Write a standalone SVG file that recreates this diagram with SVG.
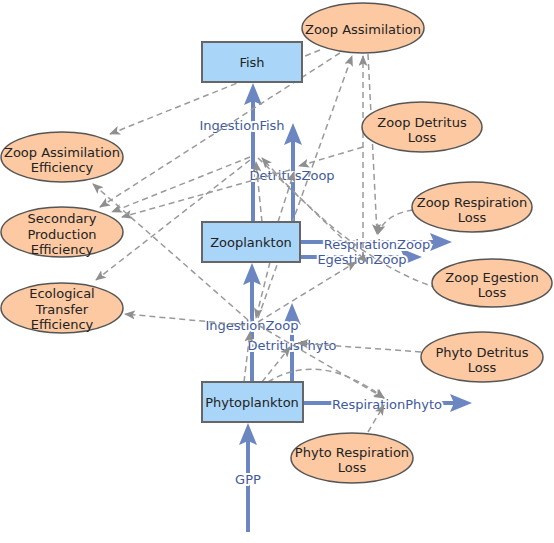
<svg xmlns="http://www.w3.org/2000/svg" width="554" height="543" viewBox="0 0 554 543">
<defs>
<style>
.flow{stroke:#6b86c1;stroke-width:4;fill:none;marker-end:url(#fa)}
.con{stroke:#9a9a9a;stroke-width:1.5;stroke-dasharray:6 4;fill:none;marker-end:url(#ca)}
.stock{fill:#a9d6f8;stroke:#666;stroke-width:2}
.conv{fill:#fcc9a2;stroke:#555;stroke-width:1.5}
text{font-family:"DejaVu Sans","Liberation Sans",sans-serif;font-size:13px;text-anchor:middle}
.nt{fill:#222}
.fl{fill:#3f5a9c;stroke:#fff;stroke-width:4;stroke-linejoin:round;paint-order:stroke}
</style>
<marker id="fa" viewBox="0 0 22 18" refX="12" refY="9" markerWidth="22" markerHeight="18" markerUnits="userSpaceOnUse" orient="auto">
<path d="M0,0 L22,9 L0,18 L4,9 z" fill="#6b86c1"/>
</marker>
<marker id="ca" viewBox="0 0 11 9" refX="10" refY="4.5" markerWidth="11" markerHeight="9" markerUnits="userSpaceOnUse" orient="auto">
<path d="M0,0 L11,4.5 L0,9 L2.5,4.5 z" fill="#8f8f8f"/>
</marker>
</defs>
<rect width="554" height="543" fill="#fff"/>
<g id="flows">
<line class="flow" x1="248" y1="532" x2="248" y2="433"/>
<line class="flow" x1="252" y1="382" x2="252" y2="273"/>
<line class="flow" x1="292" y1="382" x2="292" y2="313"/>
<line class="flow" x1="253" y1="222" x2="253" y2="93"/>
<line class="flow" x1="293" y1="222" x2="293" y2="133"/>
<line class="flow" x1="300" y1="242" x2="442" y2="242"/>
<line class="flow" x1="300" y1="257" x2="412" y2="257"/>
<line class="flow" x1="303" y1="403" x2="462" y2="403"/>
</g>
<g id="flow-labels">
<text class="fl" x="248" y="484">GPP</text>
<text class="fl" x="252" y="330">IngestionZoop</text>
<text class="fl" x="292" y="350">DetritusPhyto</text>
<text class="fl" x="242" y="130">IngestionFish</text>
<text class="fl" x="292" y="180">DetritusZoop</text>
<text class="fl" x="377" y="249">RespirationZoop</text>
<text class="fl" x="362" y="264">EgestionZoop</text>
<text class="fl" x="387" y="409">RespirationPhyto</text>
</g>
<g id="connectors">
<path class="con" d="M320,50 L110,134"/>
<path class="con" d="M340,53 L100,207"/>
<path class="con" d="M250,157 L112,212"/>
<path class="con" d="M290,170 L122,217"/>
<path class="con" d="M250,160 L96,280"/>
<path class="con" d="M245,325 L125,314"/>
<path class="con" d="M248,320 L93,184"/>
<path class="con" d="M258,318 L352,56"/>
<path class="con" d="M363,258 L363,56"/>
<path class="con" d="M368,54 L377,234"/>
<path class="con" d="M413,210 Q385,214 378,234"/>
<path class="con" d="M363,147 L299,166"/>
<path class="con" d="M258,322 L356,262"/>
<path class="con" d="M258,158 L367,262"/>
<path class="con" d="M437,288 Q355,262 262,158"/>
<path class="con" d="M262,222 L256,162"/>
<path class="con" d="M278,222 L294,172"/>
<path class="con" d="M270,262 L256,318"/>
<path class="con" d="M244,382 L250,332"/>
<path class="con" d="M262,382 L290,347"/>
<path class="con" d="M421,352 L298,343"/>
<path class="con" d="M258,325 L384,398"/>
<path class="con" d="M268,382 Q320,350 384,398"/>
<path class="con" d="M368,432 L384,405"/>
</g>
<g id="fish"><rect class="stock" x="202" y="42" width="100" height="40"/><text class="nt" x="252" y="67">Fish</text></g>
<g id="zooplankton"><rect class="stock" x="202" y="222" width="98" height="40"/><text class="nt" x="251" y="247">Zooplankton</text></g>
<g id="phytoplankton"><rect class="stock" x="202" y="382" width="101" height="40"/><text class="nt" x="252" y="407">Phytoplankton</text></g>
<g id="zoop-assimilation"><ellipse class="conv" cx="363" cy="28" rx="61" ry="25"/><text class="nt" x="363" y="34">Zoop Assimilation</text></g>
<g id="zoop-detritus-loss"><ellipse class="conv" cx="422" cy="127" rx="60" ry="25"/><text class="nt" x="422" y="127">Zoop Detritus</text><text class="nt" x="422" y="142">Loss</text></g>
<g id="zoop-respiration-loss"><ellipse class="conv" cx="472" cy="207" rx="60" ry="25"/><text class="nt" x="472" y="207">Zoop Respiration</text><text class="nt" x="472" y="222">Loss</text></g>
<g id="zoop-egestion-loss"><ellipse class="conv" cx="492" cy="283" rx="60" ry="24"/><text class="nt" x="492" y="282">Zoop Egestion</text><text class="nt" x="492" y="297">Loss</text></g>
<g id="phyto-detritus-loss"><ellipse class="conv" cx="482" cy="357" rx="61" ry="25"/><text class="nt" x="482" y="357">Phyto Detritus</text><text class="nt" x="482" y="372">Loss</text></g>
<g id="phyto-respiration-loss"><ellipse class="conv" cx="352" cy="458" rx="61" ry="25"/><text class="nt" x="352" y="457">Phyto Respiration</text><text class="nt" x="352" y="472">Loss</text></g>
<g id="zoop-assimilation-efficiency"><ellipse class="conv" cx="62" cy="157" rx="61" ry="25"/><text class="nt" x="62" y="157">Zoop Assimilation</text><text class="nt" x="62" y="172">Efficiency</text></g>
<g id="secondary-production-efficiency"><ellipse class="conv" cx="62" cy="232" rx="61" ry="25"/><text class="nt" x="62" y="223">Secondary</text><text class="nt" x="62" y="239">Production</text><text class="nt" x="62" y="254">Efficiency</text></g>
<g id="ecological-transfer-efficiency"><ellipse class="conv" cx="62" cy="308" rx="61" ry="25"/><text class="nt" x="62" y="298">Ecological</text><text class="nt" x="62" y="314">Transfer</text><text class="nt" x="62" y="329">Efficiency</text></g>
</svg>
